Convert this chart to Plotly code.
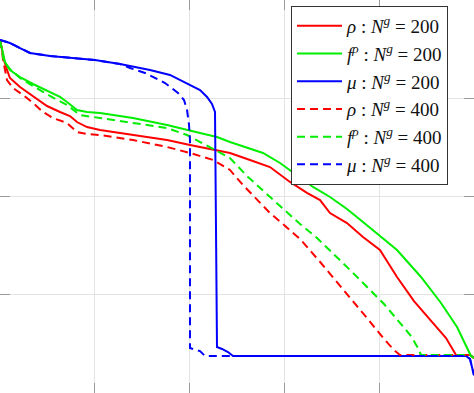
import plotly.graph_objects as go

# ---- data (x in grid units 0..5, y in grid units 0..4) ----
rho200_x = [0, 0.021, 0.042, 0.074, 0.105, 0.211, 0.348, 0.496, 0.633, 0.738, 0.812, 0.918, 1.055,
            1.403, 1.762, 2.004, 2.247, 2.426, 2.637, 2.848, 3.059, 3.238, 3.376, 3.481, 3.660, 3.829,
            4.008, 4.188, 4.367, 4.578, 4.705, 4.810, 4.958, 5.0]
rho200_y = [3.593, 3.491, 3.389, 3.288, 3.206, 3.115, 3.023, 2.921, 2.860, 2.819, 2.758, 2.707, 2.677,
            2.626, 2.575, 2.524, 2.473, 2.443, 2.372, 2.300, 2.148, 2.036, 1.964, 1.832, 1.730, 1.588,
            1.455, 1.181, 0.936, 0.702, 0.560, 0.387, 0.387, 0.356]

f200_x = [0, 0.021, 0.053, 0.105, 0.211, 0.348, 0.527, 0.633, 0.707, 0.812, 0.918, 1.055, 1.403,
          1.762, 2.110, 2.289, 2.426, 2.774, 2.954, 3.059, 3.302, 3.481, 3.660, 3.829, 4.008, 4.188,
          4.441, 4.652, 4.821, 4.926, 4.968, 5.0]
f200_y = [3.593, 3.491, 3.369, 3.288, 3.216, 3.145, 3.064, 3.013, 2.962, 2.880, 2.860, 2.850, 2.799,
          2.728, 2.646, 2.606, 2.555, 2.443, 2.341, 2.270, 2.097, 1.995, 1.873, 1.740, 1.598, 1.455,
          1.181, 0.916, 0.672, 0.458, 0.377, 0.356]

mu200_x = [0, 0.105, 0.211, 0.316, 0.527, 0.791, 1.002, 1.266, 1.582, 1.793, 1.951, 2.110, 2.184,
           2.236, 2.268, 2.278, 2.289, 2.342, 2.405, 2.458, 3.165, 4.219, 4.916, 4.958, 4.985, 5.0]
mu200_y = [3.593, 3.562, 3.511, 3.461, 3.430, 3.410, 3.389, 3.349, 3.288, 3.237, 3.165, 3.084, 3.013,
           2.942, 2.860, 1.964, 0.468, 0.448, 0.417, 0.377, 0.377, 0.377, 0.377, 0.346, 0.250, 0.180]

rho400_x = [0, 0.021, 0.032, 0.053, 0.074, 0.137, 0.243, 0.348, 0.454, 0.559, 0.707, 0.812, 0.918,
            1.055, 1.403, 1.762, 2.004, 2.247, 2.426, 2.563, 2.711, 2.848, 2.996, 3.175, 3.386, 3.629,
            3.871, 4.061, 4.156, 4.219, 4.958, 5.0]
rho400_y = [3.593, 3.491, 3.389, 3.288, 3.186, 3.104, 3.033, 2.952, 2.860, 2.799, 2.748, 2.656, 2.636,
            2.626, 2.575, 2.504, 2.443, 2.372, 2.270, 2.117, 1.964, 1.832, 1.710, 1.557, 1.323, 1.048,
            0.763, 0.539, 0.438, 0.387, 0.387, 0.356]

f400_x = [0, 0.021, 0.042, 0.105, 0.211, 0.348, 0.527, 0.707, 0.844, 1.055, 1.403, 1.762, 1.973,
          2.184, 2.426, 2.605, 2.774, 2.954, 3.165, 3.344, 3.703, 4.051, 4.336, 4.409, 4.441, 4.958, 5.0]
f400_y = [3.593, 3.471, 3.369, 3.298, 3.206, 3.125, 3.023, 2.931, 2.829, 2.799, 2.748, 2.697, 2.626,
          2.514, 2.392, 2.209, 2.056, 1.903, 1.720, 1.578, 1.242, 0.906, 0.580, 0.458, 0.387, 0.387, 0.356]

mu400_x = [0, 0.105, 0.211, 0.316, 0.527, 0.791, 1.002, 1.266, 1.371, 1.530, 1.741, 1.878, 1.941,
           1.973, 1.994, 2.004, 2.004, 2.036, 2.110, 2.162, 3.165, 4.219, 4.916, 4.958, 4.985, 5.0]
mu400_y = [3.593, 3.562, 3.511, 3.461, 3.430, 3.410, 3.389, 3.349, 3.308, 3.257, 3.155, 3.053, 2.982,
           2.880, 2.728, 2.575, 0.458, 0.448, 0.427, 0.377, 0.377, 0.377, 0.377, 0.346, 0.250, 0.180]

labels = [
    "<i>ρ</i> : <i>N</i><sup><i>g</i></sup> = 200",
    "<i>f</i><sup><i>ρ</i></sup> : <i>N</i><sup><i>g</i></sup> = 200",
    "<i>μ</i> : <i>N</i><sup><i>g</i></sup> = 200",
    "<i>ρ</i> : <i>N</i><sup><i>g</i></sup> = 400",
    "<i>f</i><sup><i>ρ</i></sup> : <i>N</i><sup><i>g</i></sup> = 400",
    "<i>μ</i> : <i>N</i><sup><i>g</i></sup> = 400",
]

series = [
    (rho200_x, rho200_y, "#ff0000", "solid"),
    (f200_x, f200_y, "#00ee00", "solid"),
    (mu200_x, mu200_y, "#0000ff", "solid"),
    (rho400_x, rho400_y, "#ff0000", "8px,5px"),
    (f400_x, f400_y, "#00ee00", "8px,5px"),
    (mu400_x, mu400_y, "#0000ff", "8px,5px"),
]

fig = go.Figure()
for i, ((xs, ys, col, dash), name) in enumerate(zip(series, labels)):
    fig.add_trace(go.Scatter(x=xs, y=ys, mode="lines", name=name, legendgroup=f"g{i}",
                             line=dict(color=col, width=2, dash=dash)))

axis_common = dict(showgrid=True, gridcolor="#e3e3e3", gridwidth=1, zeroline=False,
                   showline=True, linecolor="#9a9a9a", linewidth=1, mirror="ticks",
                   ticks="inside", ticklen=10, tickcolor="#9a9a9a", tickwidth=1,
                   showticklabels=False)

fig.update_layout(
    width=474, height=393,
    margin=dict(l=0, r=0, t=0, b=0),
    plot_bgcolor="white", paper_bgcolor="white",
    xaxis=dict(range=[0, 5.0], tickvals=[0, 1, 2, 3, 4, 5], **axis_common),
    yaxis=dict(range=[0, 4.0], tickvals=[0, 1, 2, 3, 4], **axis_common),
    legend=dict(x=291 / 474, y=1 - 6 / 393, xanchor="left", yanchor="top",
                bgcolor="white", bordercolor="#333333", borderwidth=1,
                itemwidth=45,
                font=dict(family="Liberation Serif, DejaVu Serif, serif", size=19, color="#111111"),
                tracegroupgap=0),
    showlegend=True,
)

fig.write_html("out.html", config={"displayModeBar": False},
               post_script="document.body.style.margin='0';document.body.style.overflow='hidden';")
